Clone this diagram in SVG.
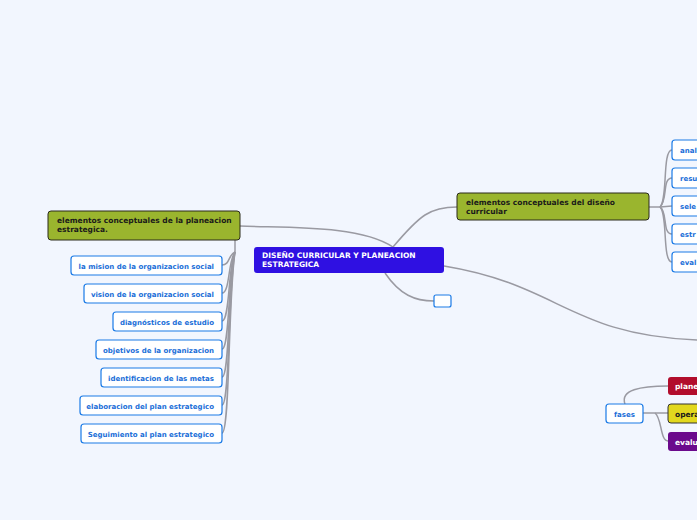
<svg xmlns="http://www.w3.org/2000/svg" width="697" height="520" viewBox="0 0 697 520">
<style>
text{font-family:"DejaVu Sans",Verdana,sans-serif;font-weight:bold;font-size:7.5px}
.c{fill:none;stroke:#9a9aa2;stroke-width:1.5}
.t{fill:#fff;stroke:#1a7ae6;stroke-width:1.2}
.tt{fill:#1a6ed8;font-size:7px}
.g{fill:#9ab52e;stroke:#2a2a1a;stroke-width:1}
.gt{fill:#1a1a1a}
</style>
<rect width="697" height="520" fill="#f2f6fe"/>
<g id="connectors">
<path class="c" d="M393,247 C360,225 290,228 240,226"/>
<path class="c" d="M393,247 C420,215 430,207 457,207"/>
<path class="c" d="M385,273 C400,295 415,301 434,301"/>
<path class="c" d="M444,266 C560,285 570,335 697,340"/>
<path class="c" d="M235,240 L235,252"/>
<path class="c" d="M235,252 C228,255 230,265 222,265"/>
<path class="c" d="M235,252 C228,260 230,293 222,293"/>
<path class="c" d="M235,252 C228,265 230,321 222,321"/>
<path class="c" d="M235,252 C228,270 230,349 222,349"/>
<path class="c" d="M235,252 C228,280 230,377 222,377"/>
<path class="c" d="M235,252 C228,290 230,405 222,405"/>
<path class="c" d="M235,252 C228,300 230,433 222,433"/>
<path class="c" d="M649,207 L660,207"/>
<path class="c" d="M660,207 C668,200 662,150 672,150"/>
<path class="c" d="M660,207 C668,200 662,178 672,178"/>
<path class="c" d="M660,207 L672,206"/>
<path class="c" d="M660,207 C668,212 662,234 672,234"/>
<path class="c" d="M660,207 C668,214 662,262 672,262"/>
<path class="c" d="M625,404 C620,390 640,386 668,386"/>
<path class="c" d="M643,413 L668,413"/>
<path class="c" d="M655,413 C662,418 660,441 668,441"/>
</g>
<g id="center"><rect x="254" y="247" width="190" height="26" rx="3" fill="#2f10e2"/><text x="262" y="258" fill="#fff">DISEÑO CURRICULAR Y PLANEACION</text><text x="262" y="267" fill="#fff">ESTRATEGICA</text></g>
<g id="left-main"><rect class="g" x="48" y="211" width="192" height="29" rx="3"/><text class="gt" x="57" y="223">elementos conceptuales de la planeacion</text><text class="gt" x="57" y="232">estrategica.</text></g>
<g id="right-main"><rect class="g" x="457" y="193" width="192" height="27" rx="3"/><text class="gt" x="466" y="205">elementos conceptuales del diseño</text><text class="gt" x="466" y="214">curricular</text></g>
<g id="l1"><rect class="t" x="71" y="256" width="151" height="19" rx="3"/><text class="tt" x="214" y="268.5" text-anchor="end">la mision de la organizacion social</text></g>
<g id="l2"><rect class="t" x="84" y="284" width="138" height="19" rx="3"/><text class="tt" x="214" y="296.5" text-anchor="end">vision de la organizacion social</text></g>
<g id="l3"><rect class="t" x="113" y="312" width="109" height="19" rx="3"/><text class="tt" x="214" y="324.5" text-anchor="end">diagnósticos de estudio</text></g>
<g id="l4"><rect class="t" x="96" y="340" width="126" height="19" rx="3"/><text class="tt" x="214" y="352.5" text-anchor="end">objetivos de la organizacion</text></g>
<g id="l5"><rect class="t" x="101" y="368" width="121" height="19" rx="3"/><text class="tt" x="214" y="380.5" text-anchor="end">identificacion de las metas</text></g>
<g id="l6"><rect class="t" x="80" y="396" width="142" height="19" rx="3"/><text class="tt" x="214" y="408.5" text-anchor="end">elaboracion del plan estrategico</text></g>
<g id="l7"><rect class="t" x="81" y="424" width="141" height="19" rx="3"/><text class="tt" x="214" y="436.5" text-anchor="end">Seguimiento al plan estrategico</text></g>
<g id="r1"><rect class="t" x="672" y="140" width="40" height="20" rx="3"/><text class="tt" x="680" y="153">anal</text></g>
<g id="r2"><rect class="t" x="672" y="168" width="40" height="20" rx="3"/><text class="tt" x="680" y="181">resu</text></g>
<g id="r3"><rect class="t" x="672" y="196" width="40" height="20" rx="3"/><text class="tt" x="680" y="209">sele</text></g>
<g id="r4"><rect class="t" x="672" y="224" width="40" height="20" rx="3"/><text class="tt" x="680" y="237">estr</text></g>
<g id="r5"><rect class="t" x="672" y="252" width="40" height="20" rx="3"/><text class="tt" x="680" y="265">eval</text></g>
<g id="empty"><rect class="t" x="434" y="295" width="17" height="12" rx="2"/></g>
<g id="fases"><rect class="t" x="606" y="404" width="37" height="19" rx="3"/><text class="tt" x="624.5" y="416.5" text-anchor="middle">fases</text></g>
<g id="f1"><rect x="668" y="377" width="40" height="18" rx="3" fill="#b20d2c"/><text x="675" y="389" fill="#fff" font-size="7">plane</text></g>
<g id="f2"><rect x="668" y="404" width="40" height="19" rx="3" fill="#e2d81e" stroke="#333" stroke-width="1"/><text x="675" y="416.5" fill="#1a1a1a" font-size="7">opera</text></g>
<g id="f3"><rect x="668" y="432" width="40" height="19" rx="3" fill="#6b0a8c"/><text x="675" y="444.5" fill="#fff" font-size="7">evalua</text></g>
</svg>
